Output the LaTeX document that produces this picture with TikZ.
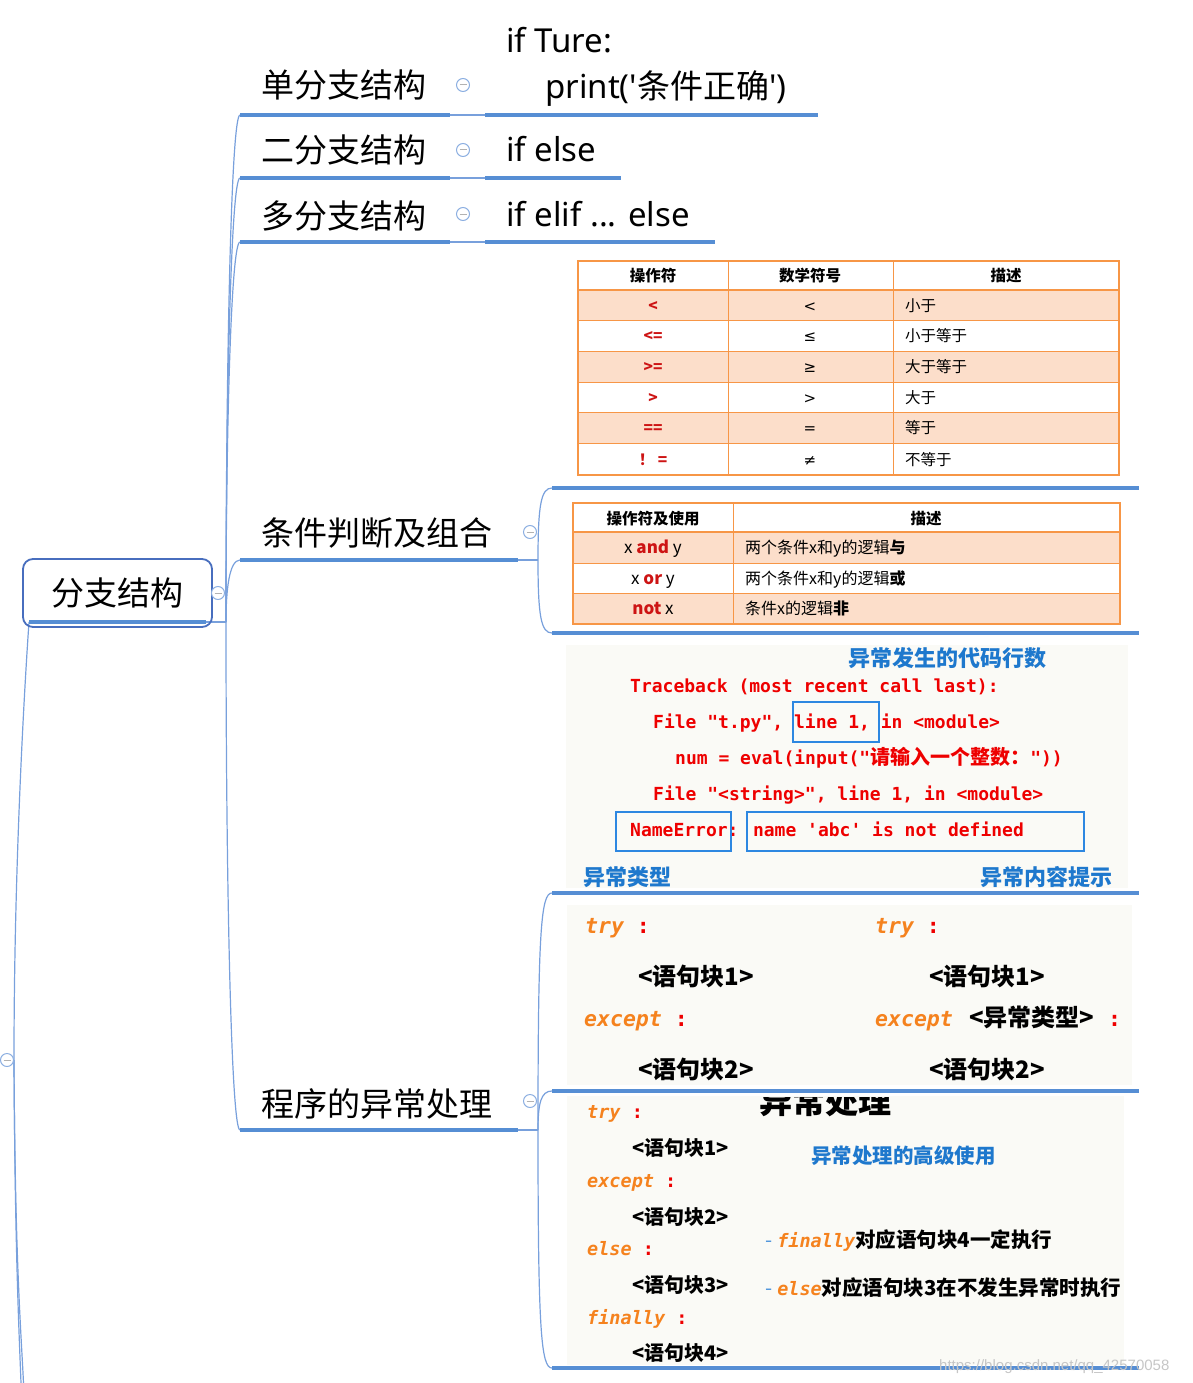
\documentclass[tikz,border=0pt]{standalone}
\usepackage{fontspec}
\setmainfont{Noto Sans CJK SC}
\newfontfamily\lat{Noto Sans}[Ligatures=TeXOff]
\newfontfamily\mono{DejaVu Sans Mono}[BoldFont={DejaVu Sans Mono Bold},ItalicFont={DejaVu Sans Mono Oblique},BoldItalicFont={DejaVu Sans Mono Bold Oblique},Ligatures=TeXOff]
\newfontfamily\dejavu{DejaVu Sans}
\newfontfamily\urlf{Liberation Sans}
\newcommand\setfs[1]{\fontsize{#1}{#1}\selectfont}
\definecolor{ulblue}{RGB}{86,142,212}
\definecolor{lnblue}{RGB}{120,160,220}
\definecolor{rootblue}{RGB}{72,110,190}
\definecolor{btnblue}{RGB}{140,175,225}
\definecolor{tborange}{RGB}{247,150,70}
\definecolor{tbfill}{RGB}{252,222,202}
\definecolor{tred}{RGB}{205,20,20}
\definecolor{cred}{RGB}{238,0,0}
\definecolor{hblue}{RGB}{30,120,205}
\definecolor{boxblue}{RGB}{45,135,225}
\definecolor{dashblue}{RGB}{80,150,220}
\definecolor{kworange}{RGB}{245,130,30}
\definecolor{imgbg}{RGB}{250,250,246}
\begin{document}
\begin{tikzpicture}[x=1pt,y=-1pt,
  ln/.style={draw=lnblue, line width=1.2},
  uline/.style={draw=ulblue, line width=4},
  btn/.style={circle, draw=btnblue, fill=white, line width=1, minimum size=13, inner sep=0,
    path picture={\draw[gray!60, line width=1] ([xshift=-3.5]path picture bounding box.center) -- ([xshift=3.5]path picture bounding box.center);}},
  lbl/.style={anchor=base west, inner sep=0, font=\setfs{33}},
  latlbl/.style={anchor=base west, inner sep=0, font=\lat\setfs{33}},
  cell/.style={inner sep=0, text height=.82em, text depth=.18em},
  bw/.style={anchor=base west, inner sep=0},
  mtxt/.style={anchor=base west, inner sep=0, text=cred, font=\mono\bfseries\setfs{18}},
  kwA/.style={anchor=base west, inner sep=0, text=kworange, font=\mono\bfseries\itshape\setfs{21.5}},
  kwB/.style={anchor=base west, inner sep=0, text=kworange, font=\mono\bfseries\itshape\setfs{18.5}},
  head/.style={anchor=base west, inner sep=0, text=hblue, font=\bfseries\setfs{22}},
  hbox/.style={draw=boxblue, line width=1.8}
]
\useasboundingbox (0,0) rectangle (1192,1383);

% ---------- coordinates ----------
\coordinate (rx) at (226,622);
\coordinate (c1s) at (240,115); \coordinate (c1e) at (450,115);
\coordinate (s1s) at (485,115); \coordinate (s1e) at (818,115);
\coordinate (c2s) at (240,178); \coordinate (c2e) at (450,178);
\coordinate (s2s) at (485,178); \coordinate (s2e) at (621,178);
\coordinate (c3s) at (240,242); \coordinate (c3e) at (450,242);
\coordinate (s3s) at (485,242); \coordinate (s3e) at (715,242);
\coordinate (c4s) at (240,560); \coordinate (c4e) at (518,560); \coordinate (x4) at (538,560);
\coordinate (c5s) at (240,1130); \coordinate (c5e) at (518,1130); \coordinate (x5) at (538,1130);
\coordinate (t1s) at (552,488); \coordinate (t1e) at (1139,488);
\coordinate (t2s) at (552,633); \coordinate (t2e) at (1139,633);
\coordinate (e1s) at (552,893); \coordinate (e1e) at (1139,893);
\coordinate (e2s) at (552,1091); \coordinate (e2e) at (1139,1091);
\coordinate (e3s) at (552,1368); \coordinate (e3e) at (1139,1368);
\coordinate (rul1) at (29,622); \coordinate (rul2) at (206,622);
\coordinate (pp) at (14,1060);
\coordinate (d1) at (21,1383); \coordinate (d2) at (23.5,1383);

% ---------- image backgrounds ----------
\fill[imgbg] (566,645) rectangle (1128,888);
\fill[imgbg] (567,905) rectangle (1132,1085);
\fill[imgbg] (567,1096) rectangle (1124,1365);

% ---------- table 1 ----------
\fill[tbfill] (578,290) rectangle (1119,320);
\fill[tbfill] (578,351) rectangle (1119,382);
\fill[tbfill] (578,412) rectangle (1119,443);
\foreach \yy in {320,351,382,412,443} \draw[tborange, line width=1] (578,\yy) -- (1119,\yy);
\draw[tborange, line width=1] (728,261) -- (728,475) (893,261) -- (893,475);
\draw[tborange, line width=2.2] (578,290) -- (1119,290);
\draw[tborange, line width=1.2] (578,261) rectangle (1119,475);
\node[cell, font=\bfseries\setfs{15.5}] (th1) at (653,278) {操作符};
\node[cell, font=\bfseries\setfs{15.5}] (th2) at (810,278) {数学符号};
\node[cell, font=\bfseries\setfs{15.5}] (th3) at (1006,278) {描述};
\foreach \yy/\op/\sym/\desc [count=\i] in {308/{<}/{<}/小于, 338.5/{<=}/{≤}/小于等于, 369.5/{>=}/{≥}/大于等于, 400/{>}/{>}/大于, 430.5/{==}/{=}/等于, 462/{！ =}/{≠}/不等于}
{
  \node[cell, text=tred, font=\bfseries\setfs{15.5}] (ta\i) at (653,\yy) {\op};
  \node[cell, font=\dejavu\setfs{15}] (tb\i) at (810,\yy) {\sym};
  \node[cell, anchor=west, font=\setfs{15.5}] (tc\i) at (905,\yy) {\desc};
}

% ---------- table 2 ----------
\fill[tbfill] (573,532) rectangle (1120,563);
\fill[tbfill] (573,593) rectangle (1120,624);
\foreach \yy in {563,593} \draw[tborange, line width=1] (573,\yy) -- (1120,\yy);
\draw[tborange, line width=1] (733,503) -- (733,624);
\draw[tborange, line width=2.2] (573,532) -- (1120,532);
\draw[tborange, line width=1.2] (573,503) rectangle (1120,624);
\node[cell, font=\bfseries\setfs{15.5}] (uh1) at (653,521) {操作符及使用};
\node[cell, font=\bfseries\setfs{15.5}] (uh2) at (926,521) {描述};
\node[cell, font=\setfs{17}] (ua1) at (653,550.5) {x \textcolor{tred}{\bfseries and} y};
\node[cell, font=\setfs{17}] (ua2) at (653,581) {x \textcolor{tred}{\bfseries or} y};
\node[cell, font=\setfs{17}] (ua3) at (653,611.5) {\textcolor{tred}{\bfseries not} x};
\node[cell, anchor=west, font=\setfs{16}] (ub1) at (745,550.5) {两个条件x和y的逻辑\textbf{与}};
\node[cell, anchor=west, font=\setfs{16}] (ub2) at (745,581) {两个条件x和y的逻辑\textbf{或}};
\node[cell, anchor=west, font=\setfs{16}] (ub3) at (745,611.5) {条件x的逻辑\textbf{非}};

% ---------- connectors ----------
\draw[ln] (rul2) -- (rx);
\draw[ln] (rx) .. controls (226,368) and (231,115) .. (c1s);
\draw[ln] (rx) .. controls (226,400) and (231,178) .. (c2s);
\draw[ln] (rx) .. controls (226,432) and (231,242) .. (c3s);
\draw[ln] (rx) .. controls (226,591) and (229,560) .. (c4s);
\draw[ln] (rx) .. controls (226,876) and (231,1130) .. (c5s);
\draw[ln] (c1e) -- (s1s);
\draw[ln] (c2e) -- (s2s);
\draw[ln] (c3e) -- (s3s);
\draw[ln] (c4e) -- (x4);
\draw[ln] (x4) .. controls (538,505) and (541,488) .. (t1s);
\draw[ln] (x4) .. controls (538,616) and (541,633) .. (t2s);
\draw[ln] (c5e) -- (x5);
\draw[ln] (x5) .. controls (538,930) and (541,893) .. (e1s);
\draw[ln] (x5) .. controls (538,1103) and (541,1091) .. (e2s);
\draw[ln] (x5) .. controls (538,1330) and (541,1368) .. (e3s);
\draw[ln] (pp) .. controls (14,860) and (25,680) .. (rul1);
\draw[ln] (pp) .. controls (15,1250) and (19,1330) .. (d1);
\draw[ln] (pp) .. controls (15,1260) and (21,1330) .. (d2);

% ---------- underlines ----------
\foreach \a/\b in {c1s/c1e, s1s/s1e, c2s/c2e, s2s/s2e, c3s/c3e, s3s/s3e, c4s/c4e, c5s/c5e, t1s/t1e, t2s/t2e, e1s/e1e, e2s/e2e, e3s/e3e}
  \draw[uline] (\a) -- (\b);

% ---------- root ----------
\node[draw=rootblue, line width=1.8, rounded corners=10, minimum width=189, minimum height=68, inner sep=0, font=\setfs{33}] (root) at (117.5,593) {分支结构};
\draw[draw=ulblue, line width=3.5] (rul1) -- (rul2);

% ---------- collapse buttons ----------
\node[btn] (bt1) at (463,85) {};
\node[btn] (bt2) at (463,150) {};
\node[btn] (bt3) at (463,214) {};
\node[btn] (bt4) at (530,532) {};
\node[btn] (bt5) at (530,1101) {};
\node[btn] (btr) at (218,593) {};
\node[btn] (pb) at (7,1060) {};
\draw[ln] (pb) -- (pp);

% ---------- branch labels ----------
\node[lbl] (n1) at (261,98) {单分支结构};
\node[lbl] (n2) at (261,163) {二分支结构};
\node[lbl] (n3) at (261,228) {多分支结构};
\node[lbl] (n4) at (261,545) {条件判断及组合};
\node[lbl] (n5) at (261,1116) {程序的异常处理};
\node[latlbl] (s1a) at (506,53) {if Ture:};
\node[latlbl] (s1b) at (545,99) {print('{\normalfont 条件正确}')};
\node[latlbl] (s2) at (506,162) {if else};
\node[latlbl] (s3) at (506,226) {if elif ... else};

% ---------- traceback ----------
\node[head] (hd1) at (848,666) {异常发生的代码行数};
\node[mtxt] (tr1) at (630,692) {Traceback (most recent call last):};
\node[mtxt] (tr2) at (653,728) {File "t.py", line 1, in <module>};
\node[mtxt] (tr3) at (675,764) {num = eval(input("{\normalfont\bfseries\setfs{20}请输入一个整数：}"))};
\node[mtxt] (tr4) at (653,800) {File "<string>", line 1, in <module>};
\node[mtxt] (tr5) at (630,836) {NameError: name 'abc' is not defined};
\draw[hbox] (793,702) rectangle (879,742);
\draw[hbox] (616,812) rectangle (731,851);
\draw[hbox] (747,812) rectangle (1084,851);
\node[head] (hd2) at (583,885) {异常类型};
\node[head] (hd3) at (980,885) {异常内容提示};

% ---------- try / except ----------
\node[kwA] (k1) at (585,933) {try \textcolor{cred}{\upshape :}};
\node[bw, font=\bfseries\setfs{24}] (b1) at (638,985) {<语句块1>};
\node[kwA] (k2) at (584,1026) {except \textcolor{cred}{\upshape :}};
\node[bw, font=\bfseries\setfs{24}] (b2) at (638,1078) {<语句块2>};
\node[kwA] (k3) at (875,933) {try \textcolor{cred}{\upshape :}};
\node[bw, font=\bfseries\setfs{24}] (b3) at (929,985) {<语句块1>};
\node[kwA] (k4) at (875,1026) {except};
\node[bw, font=\bfseries\setfs{24}] (b4) at (969,1026) {<异常类型>};
\node[bw, text=cred, font=\mono\bfseries\setfs{21.5}] (k4c) at (1108,1026) {:};
\node[bw, font=\bfseries\setfs{24}] (b5) at (929,1078) {<语句块2>};

% ---------- advanced ----------
\begin{scope}
  \clip (740,1097) rectangle (910,1130);
  \node[bw, font=\bfseries\setfs{33}] (cut) at (759,1113) {异常处理};
\end{scope}
\node[kwB] (a1) at (587,1118) {try \textcolor{cred}{\upshape :}};
\node[bw, font=\bfseries\setfs{20}] (ab1) at (632,1155) {<语句块1>};
\node[kwB] (a2) at (587,1187) {except \textcolor{cred}{\upshape :}};
\node[bw, font=\bfseries\setfs{20}] (ab2) at (632,1224) {<语句块2>};
\node[kwB] (a3) at (587,1255) {else \textcolor{cred}{\upshape :}};
\node[bw, font=\bfseries\setfs{20}] (ab3) at (632,1292) {<语句块3>};
\node[kwB] (a4) at (587,1324) {finally \textcolor{cred}{\upshape :}};
\node[bw, font=\bfseries\setfs{20}] (ab4) at (632,1360) {<语句块4>};
\node[head, font=\bfseries\setfs{20.5}] (hd4) at (811,1163) {异常处理的高级使用};
\node[bw, font=\setfs{20.5}] (f1) at (765,1247) {\textcolor{dashblue}{-}\hspace{5pt}{\mono\bfseries\itshape\setfs{18.5}\textcolor{kworange}{finally}}\textbf{对应语句块4一定执行}};
\node[bw, font=\setfs{20.5}] (f2) at (765,1295) {\textcolor{dashblue}{-}\hspace{5pt}{\mono\bfseries\itshape\setfs{18.5}\textcolor{kworange}{else}}\textbf{对应语句块3在不发生异常时执行}};
\node[bw, text=gray!45, font=\urlf\setfs{15}] (url) at (939,1370) {https://blog.csdn.net/qq\_42570058};
\end{tikzpicture}
\end{document}
